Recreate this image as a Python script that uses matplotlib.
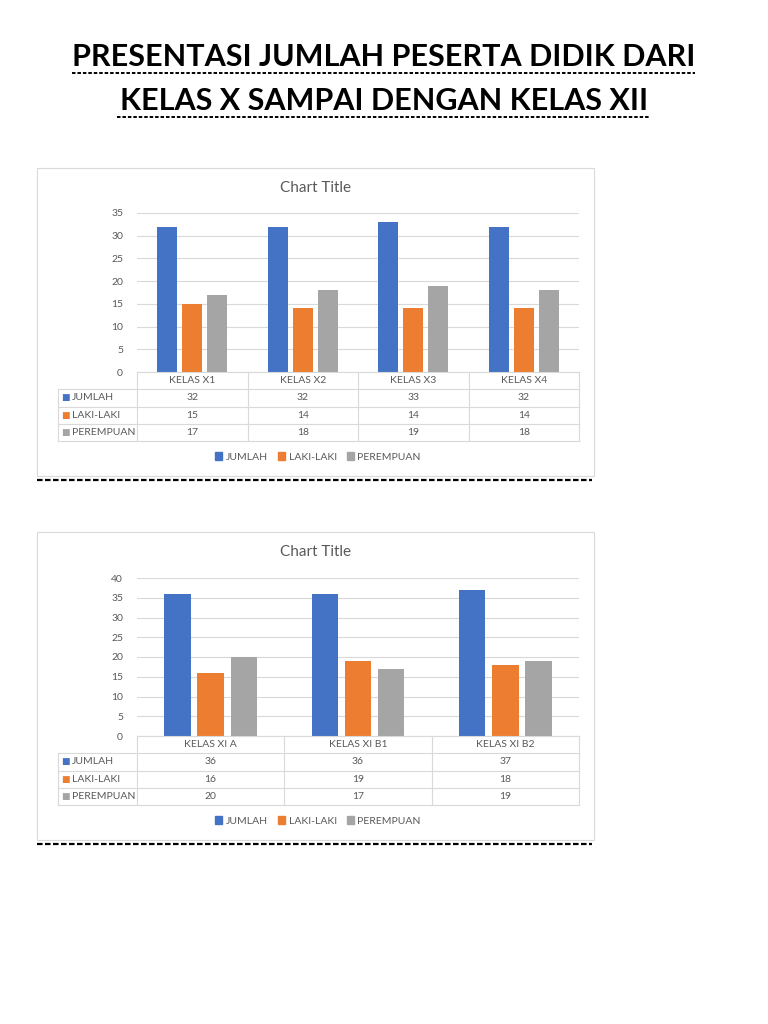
import matplotlib.pyplot as plt
from matplotlib.patches import Rectangle, Patch
from matplotlib.lines import Line2D

plt.rcParams['font.family'] = ['Lato', 'DejaVu Sans']

title_lines = ['PRESENTASI JUMLAH PESERTA DIDIK DARI', 'KELAS X SAMPAI DENGAN KELAS XII']
series_names = ['JUMLAH', 'LAKI-LAKI', 'PEREMPUAN']
colors = ['#4472C4', '#ED7D31', '#A5A5A5']

kelas_x = ['KELAS X1', 'KELAS X2', 'KELAS X3', 'KELAS X4']
x_jumlah = [32, 32, 33, 32]
x_laki = [15, 14, 14, 14]
x_perempuan = [17, 18, 19, 18]

kelas_xi = ['KELAS XI A', 'KELAS XI B1', 'KELAS XI B2']
xi_jumlah = [36, 36, 37]
xi_laki = [16, 19, 18]
xi_perempuan = [20, 17, 19]

W, H = 768, 1024
fig = plt.figure(figsize=(W / 100, H / 100), dpi=100)


def fx(x):
    return x / W


def fy(y):
    return 1 - y / H


def rect(l, t, r, b):
    return [fx(l), fy(b), (r - l) / W, (b - t) / H]


def dashed(x0, x1, y, lw, dashes):
    fig.add_artist(Line2D([fx(x0), fx(x1)], [fy(y), fy(y)], color='black',
                          lw=lw, dashes=dashes, transform=fig.transFigure))


# page title
fig.text(0.5, fy(57), title_lines[0], ha='center', va='center', fontsize=22,
         fontweight='bold')
dashed(72, 695, 73, 1.4, (1.8, 1.0))
fig.text(0.5, fy(101), title_lines[1], ha='center', va='center', fontsize=22,
         fontweight='bold')
dashed(117, 650, 117, 1.4, (1.8, 1.0))


def draw_chart(top, cats, vals, ymax, grid_h):
    n = len(cats)
    # outer chart frame
    fig.add_artist(Rectangle((fx(37), fy(top + 308)), 557 / W, 308 / H,
                             transform=fig.transFigure, fill=False,
                             edgecolor='#d9d9d9', lw=0.8))
    fig.text(fx(315), fy(top + 20), 'Chart Title', ha='center', va='center',
             fontsize=11, color='#595959')

    y0 = top + 204  # baseline of bars
    ax = fig.add_axes(rect(137, y0 - grid_h, 579, y0))
    width = 0.18
    step = 0.225
    for i, (name, v) in enumerate(zip(series_names, vals)):
        xs = [k + (i - 1) * step for k in range(n)]
        ax.bar(xs, v, width, color=colors[i], label=name, zorder=3)
    ax.set_xlim(-0.5, n - 0.5)
    ax.set_ylim(0, ymax)
    ax.set_yticks(range(0, ymax + 1, 5))
    ax.grid(axis='y', color='#d9d9d9', lw=0.8, zorder=0)
    ax.set_xticks([])
    for s in ax.spines.values():
        s.set_visible(False)
    ax.tick_params(axis='y', length=0, labelsize=7.5, labelcolor='#595959', pad=10)

    # data table under the bars
    cw = 442 / n
    left = -0.5 - (137 - 58) / cw
    tb = fig.add_axes(rect(58, y0, 579, y0 + 69))
    tb.set_xlim(left, n - 0.5)
    tb.set_ylim(4, 0)
    tb.axis('off')
    lc = '#d9d9d9'
    tb.plot([-0.5, n - 0.5], [0, 0], color=lc, lw=0.8, clip_on=False)
    for r in range(1, 5):
        tb.plot([left, n - 0.5], [r, r], color=lc, lw=0.8, clip_on=False)
    for k in range(n + 1):
        tb.plot([k - 0.5, k - 0.5], [0, 4], color=lc, lw=0.8, clip_on=False)
    tb.plot([left, left], [1, 4], color=lc, lw=0.8, clip_on=False)
    for k, c in enumerate(cats):
        tb.text(k, 0.5, c, ha='center', va='center', fontsize=7.5, color='#595959')
    for i, (name, v) in enumerate(zip(series_names, vals)):
        tb.text(left + 3 / cw, i + 1.5, '\u25a0', ha='left', va='center',
                fontsize=6.5, color=colors[i])
        tb.text(left + 14 / cw, i + 1.5, name, ha='left', va='center',
                fontsize=7.5, color='#595959')
        for k, val in enumerate(v):
            tb.text(k, i + 1.5, str(val), ha='center', va='center', fontsize=7.5,
                    color='#595959')

    handles = [Patch(color=c) for c in colors]
    fig.legend(handles, series_names, loc='center', bbox_to_anchor=(fx(318), fy(top + 289)),
               ncol=3, frameon=False, fontsize=7.5, handlelength=0.7, handleheight=0.7,
               handletextpad=0.3, columnspacing=1.0, labelcolor='#595959')

    dashed(37, 592, top + 312, 1.6, (2.5, 1.1))


draw_chart(168, kelas_x, [x_jumlah, x_laki, x_perempuan], 35, 159)
draw_chart(532, kelas_xi, [xi_jumlah, xi_laki, xi_perempuan], 40, 158)

fig.savefig('out.png', dpi=100)
